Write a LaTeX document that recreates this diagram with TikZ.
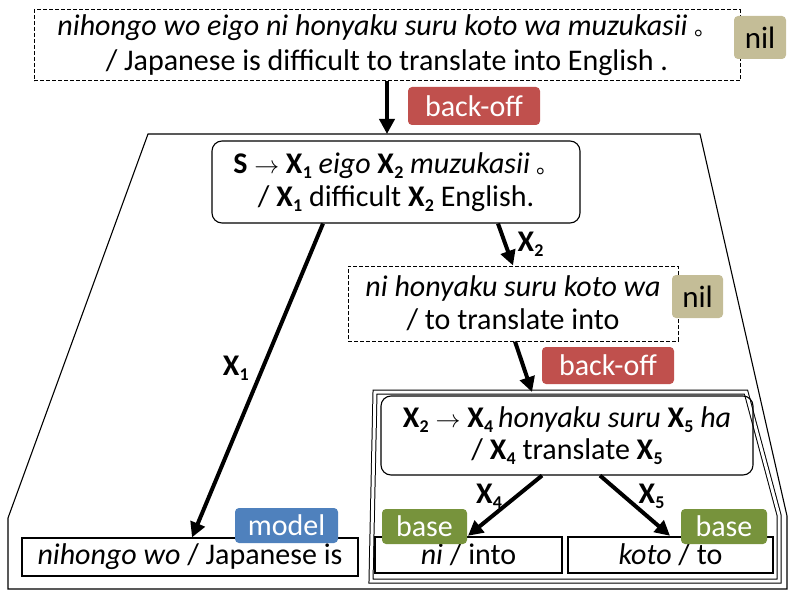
\documentclass[tikz,border=0pt]{standalone}
\usepackage{fontspec}
\setmainfont{Carlito}
\newfontfamily\cjkf{Noto Sans CJK JP}
\usetikzlibrary{arrows.meta,calc}
\newcommand{\xv}[1]{\textbf{X}\kern0.3pt\raisebox{-0.34ex}{\fontsize{18}{18}\selectfont\textbf{#1}}}
\newcommand{\rarr}{$\rightarrow$}
\newcommand{\jstop}{{\cjkf\fontsize{22}{22}\selectfont 。}}
\definecolor{boRed}{HTML}{C0504D}
\definecolor{nilTan}{HTML}{C4BD97}
\definecolor{modBlue}{HTML}{4F81BD}
\definecolor{baseGreen}{HTML}{77933C}
\tikzset{
  txt/.style={font=\fontsize{30}{33}\selectfont, align=center, inner sep=0pt},
  dbox/.style={txt, draw, dashed, line width=1pt, dash pattern=on 4pt off 2pt},
  rbox/.style={txt, draw, rounded corners=10pt, line width=1.1pt},
  leafbox/.style={txt, draw, line width=2.4pt},
  thinleaf/.style={txt, draw, line width=1.1pt},
  tag/.style={font=\fontsize{30}{30}\selectfont, inner sep=0pt, rounded corners=4pt, text=white},
  nilt/.style={tag, fill=nilTan, text=black, font=\fontsize{31}{31}\selectfont},
  bot/.style={tag, fill=boRed},
  modt/.style={tag, fill=modBlue},
  baset/.style={tag, fill=baseGreen},
  conn/.style={line width=4pt, -{Triangle[length=15pt,width=15pt]}},
  elab/.style={font=\fontsize{30}{30}\selectfont, inner sep=0pt},
  outline/.style={line width=1.1pt, line join=miter},
}
\begin{document}
\begin{tikzpicture}[x=1pt,y=-1pt]
\useasboundingbox (0,0) rectangle (794,596);
% big trapezoid
\draw[outline] (148,134) -- (700,134) -- (787,516) -- (787,589) -- (8,589) -- (8,518) -- cycle;
% inner container (double line)
\draw[line width=1pt, double, double distance=3pt] (375,392) -- (746,392) -- (779,515) -- (779,581) -- (371,581) -- cycle;

% top sentence
\node[dbox, minimum width=706pt, minimum height=71pt, font=\fontsize{30}{35}\selectfont] (top) at (387,45.5)
  {\textit{nihongo wo eigo ni honyaku suru koto wa muzukasii} \jstop\\/ Japanese is difficult to translate into English .};
\node[nilt, minimum width=52pt, minimum height=43pt] (nil1) at (760,37.5) {nil};
\node[bot, minimum width=132pt, minimum height=38pt] (bo1) at (474,106) {back-off};
\coordinate (trapTop) at (387,134);

% rule S
\node[rbox, minimum width=368pt, minimum height=82pt] (S) at (396,182)
  {\textbf{S} \rarr\ \xv{1} \textit{eigo} \xv{2} \textit{muzukasii} \jstop\\/ \xv{1} difficult \xv{2} English.};

% dashed box 2
\node[dbox, minimum width=330pt, minimum height=75pt] (mid) at (513,303.5)
  {\textit{ni honyaku suru koto wa}\\/ to translate into};
\node[nilt, minimum width=51pt, minimum height=43pt] (nil2) at (697.5,296.5) {nil};
\node[bot, minimum width=132pt, minimum height=37pt] (bo2) at (608,365.5) {back-off};
\coordinate (innerTop) at (532,392);

% rule X2
\node[rbox, minimum width=372pt, minimum height=79pt, font=\fontsize{30}{32}\selectfont] (R2) at (567,435.5)
  {\xv{2} \rarr\ \xv{4}\,\textit{honyaku suru} \xv{5} \textit{ha}\\/ \xv{4} translate \xv{5}};

% leaves
\node[thinleaf, minimum width=336pt, minimum height=38pt] (nih) at (190,557) {\textit{nihongo wo} / Japanese is};
\node[leafbox, minimum width=187pt, minimum height=36pt] (ni) at (468.5,555) {\textit{ni} / into};
\node[leafbox, minimum width=205pt, minimum height=36pt] (koto) at (670.5,555) {\textit{koto} / to};

% tags
\node[modt, minimum width=103pt, minimum height=35pt] (model) at (286.5,525.5) {model};
\node[baset, minimum width=85pt, minimum height=35pt] (base1) at (424.5,526.5) {base};
\node[baset, minimum width=86pt, minimum height=35pt] (base2) at (724,526.5) {base};

% connectors
\draw[conn] (top.south) -- (trapTop);
\draw[conn] ([xshift=-73pt]S.south) -- ([xshift=2pt]nih.north) node[elab, pos=0.46, left=12pt] (l1) {\xv{1}};
\draw[conn] ([xshift=102pt]S.south) -- (mid.north) node[elab, midway, right=10pt] (l2) {\xv{2}};
\draw[conn] ([xshift=2pt]mid.south) -- (innerTop);
\draw[conn] ([xshift=-25pt]R2.south) -- ([xshift=-0.5pt]ni.north) node[elab, pos=0.35, left=12pt] (l4) {\xv{4}};
\draw[conn] ([xshift=33pt]R2.south) -- ([xshift=-0.5pt]koto.north) node[elab, pos=0.35, right=12pt] (l5) {\xv{5}};
\end{tikzpicture}
\end{document}
